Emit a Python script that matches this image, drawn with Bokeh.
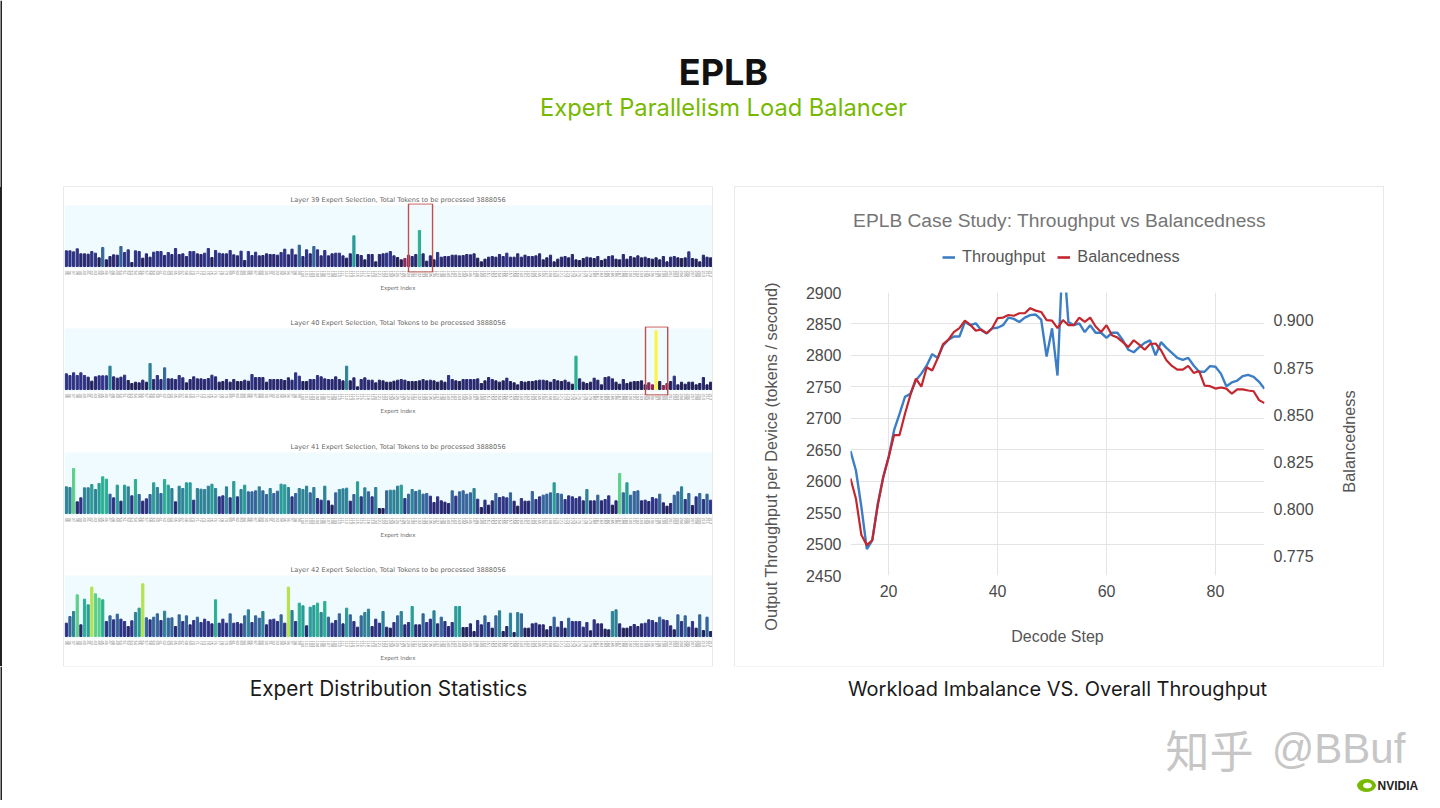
from bokeh.embed import file_html
from bokeh.layouts import column, row
from bokeh.models import (BoxAnnotation, ColumnDataSource, FixedTicker, Label, Legend, LegendItem,
                          LinearAxis, NumeralTickFormatter, Range1d, Spacer, Span, Title)
from bokeh.plotting import figure
from bokeh.resources import INLINE

# token bars per expert (relative height, no axis on the slide)
layer_39 = [
    47, 47, 44, 53, 38, 38, 37, 45, 40, 26, 57, 20, 30, 35, 34, 60, 42, 50, 12, 47,
    45, 25, 38, 28, 43, 45, 45, 33, 42, 36, 54, 36, 38, 30, 45, 45, 38, 36, 40, 54,
    27, 48, 40, 38, 38, 48, 35, 32, 46, 18, 45, 33, 43, 32, 33, 38, 36, 36, 34, 42,
    52, 35, 52, 35, 64, 30, 50, 38, 60, 50, 32, 48, 32, 38, 40, 40, 32, 25, 38, 92,
    36, 33, 20, 36, 36, 14, 36, 38, 40, 45, 32, 27, 20, 24, 34, 30, 36, 108, 38, 16,
    32, 20, 42, 28, 30, 30, 34, 34, 32, 33, 36, 35, 38, 25, 14, 22, 28, 30, 28, 36,
    30, 40, 28, 28, 38, 28, 34, 30, 30, 32, 38, 20, 26, 34, 14, 22, 28, 30, 26, 36,
    20, 18, 24, 28, 26, 24, 30, 18, 22, 30, 32, 22, 20, 36, 22, 30, 26, 32, 26, 28,
    24, 22, 26, 20, 30, 14, 28, 30, 26, 24, 26, 44, 24, 22, 14, 34, 28, 26,
]
layer_40 = [
    47, 42, 50, 42, 50, 42, 37, 25, 38, 41, 41, 41, 70, 38, 34, 37, 43, 27, 18, 22,
    20, 28, 22, 78, 30, 42, 30, 65, 32, 32, 30, 42, 35, 20, 30, 38, 32, 32, 30, 33,
    43, 38, 22, 24, 30, 22, 30, 24, 24, 28, 25, 45, 36, 36, 36, 22, 30, 30, 30, 30,
    27, 35, 28, 50, 40, 24, 24, 30, 30, 42, 38, 32, 30, 30, 38, 30, 26, 70, 26, 35,
    8, 30, 35, 28, 28, 20, 28, 26, 22, 22, 25, 28, 30, 28, 24, 24, 24, 26, 30, 26,
    28, 26, 22, 26, 22, 42, 30, 26, 24, 30, 30, 30, 30, 32, 18, 26, 36, 30, 26, 22,
    26, 34, 24, 20, 14, 24, 22, 24, 24, 26, 28, 28, 26, 22, 30, 26, 24, 28, 22, 16,
    100, 32, 22, 18, 22, 34, 28, 14, 36, 38, 32, 22, 16, 30, 18, 22, 24, 24, 26, 14,
    20, 14, 176, 24, 12, 18, 24, 40, 14, 22, 16, 22, 22, 14, 18, 36, 14, 22,
]
layer_41 = [
    80, 78, 135, 35, 47, 77, 77, 87, 72, 90, 110, 103, 58, 47, 85, 37, 85, 80, 53, 102,
    57, 37, 44, 57, 92, 78, 60, 102, 85, 75, 35, 82, 75, 92, 92, 40, 75, 73, 72, 82,
    88, 75, 50, 53, 80, 47, 96, 50, 72, 85, 65, 65, 68, 80, 68, 57, 75, 60, 67, 88,
    86, 78, 50, 60, 75, 72, 82, 62, 78, 45, 40, 82, 38, 25, 62, 72, 74, 76, 37, 57,
    95, 50, 77, 65, 50, 78, 15, 15, 68, 70, 70, 82, 85, 45, 58, 72, 66, 70, 58, 60,
    52, 33, 50, 38, 34, 30, 68, 52, 65, 68, 58, 62, 75, 43, 18, 40, 25, 38, 60, 48,
    50, 47, 62, 37, 22, 45, 37, 37, 66, 42, 50, 55, 58, 62, 92, 60, 58, 42, 53, 50,
    45, 50, 38, 72, 38, 38, 55, 38, 42, 53, 25, 38, 120, 62, 92, 55, 66, 68, 38, 40,
    36, 48, 44, 58, 32, 22, 30, 55, 65, 80, 42, 60, 24, 50, 60, 42, 58, 40,
]
layer_42 = [
    40, 60, 75, 125, 35, 112, 95, 148, 128, 115, 110, 45, 62, 50, 67, 52, 45, 30, 47, 72,
    85, 158, 56, 50, 58, 68, 48, 76, 55, 56, 30, 65, 45, 62, 35, 48, 58, 42, 52, 45,
    38, 110, 40, 52, 40, 68, 40, 42, 38, 62, 80, 42, 62, 55, 75, 35, 50, 52, 45, 65,
    40, 148, 78, 45, 100, 92, 32, 88, 93, 100, 72, 105, 58, 40, 48, 68, 38, 85, 65, 45,
    28, 62, 72, 82, 30, 52, 40, 75, 28, 25, 42, 62, 75, 35, 42, 90, 35, 35, 68, 42,
    52, 77, 38, 58, 45, 30, 42, 90, 90, 27, 27, 38, 15, 48, 35, 62, 42, 25, 62, 77,
    15, 30, 70, 12, 72, 68, 25, 25, 38, 40, 35, 35, 20, 30, 58, 28, 45, 25, 55, 45,
    45, 45, 28, 42, 17, 50, 38, 38, 22, 20, 75, 80, 38, 25, 25, 30, 36, 30, 38, 40,
    50, 48, 42, 58, 50, 48, 32, 20, 65, 45, 62, 28, 45, 25, 65, 18, 58, 15,
]
layer_names = [39, 40, 41, 42]
total_tokens = 3888056
first_expert = 35

# height bins and the colours of the slide's colour scale
color_limits = [28, 40, 55, 70, 85, 100, 115, 140, 170]
color_steps = ["#232058", "#2a2870", "#2f3384", "#36659a", "#2f8296", "#2a9c98", "#2bb092",
               "#5ccf8a", "#b4e24e", "#fdf44a"]

# red boxes on layers 39 and 40: expert span, and the bars tinted under them
highlight_39 = (94.0, 100.6)
highlight_40 = (159.1, 165.2)
tint_39 = [93, 94]
tint_40 = [160, 161, 164, 165]

steps = list(range(13, 90))
throughput = [
    2648, 2617, 2559, 2492, 2506, 2564, 2606, 2638, 2681, 2707, 2734, 2739, 2760, 2771, 2784,
    2802, 2796, 2816, 2825, 2830, 2830, 2853, 2848, 2851, 2840, 2835, 2843, 2844, 2848, 2860,
    2858, 2853, 2860, 2864, 2865, 2857, 2798, 2843, 2768, 2970, 2853, 2848, 2851, 2837, 2848,
    2836, 2836, 2828, 2836, 2836, 2824, 2809, 2805, 2813, 2820, 2824, 2800, 2821, 2812, 2804,
    2796, 2793, 2796, 2784, 2774, 2774, 2783, 2782, 2771, 2751, 2757, 2760, 2767, 2769, 2766,
    2758, 2747,
]
balancedness = [
    .8163, .8056, .7863, .7810, .7836, .8019, .8169, .8276, .8393, .8393, .8506, .8606, .8692,
    .8649, .8752, .8735, .8799, .8875, .8899, .8939, .8959, .8999, .8976, .8946, .8952, .8932,
    .8959, .9012, .9015, .9029, .9025, .9038, .9038, .9065, .9052, .9045, .9002, .8999, .8959,
    .9002, .8975, .8975, .9015, .8992, .9015, .8968, .8939, .8975, .8922, .8909, .8885, .8859,
    .8895, .8872, .8845, .8875, .8878, .8842, .8789, .8759, .8739, .8739, .8759, .8722, .8732,
    .8655, .8652, .8639, .8645, .8639, .8612, .8635, .8635, .8629, .8625, .8578, .8562,
]
throughput_ticks = [2450, 2500, 2550, 2600, 2650, 2700, 2750, 2800, 2850, 2900]
balance_ticks = [0.775, 0.8, 0.825, 0.85, 0.875, 0.9]
step_ticks = [20, 40, 60, 80]

BLUE = "#3c7ec6"
RED = "#c4262e"
SANS = "Liberation Sans"


def bar_color(v):
    for limit, color in zip(color_limits, color_steps):
        if v < limit:
            return color
    return color_steps[-1]


def canvas(width, height, y_top, y_bottom, edge=False):
    # plain sheet in page pixels, for slide texts
    p = figure(width=width, height=height, x_range=(0, width), y_range=(y_bottom, y_top),
               x_axis_type=None, y_axis_type=None, toolbar_location=None, output_backend="svg",
               min_border=0, outline_line_color=None)
    p.grid.visible = False
    if edge:
        p.add_layout(Span(location=0.5, dimension="height", line_color="#222222", line_width=2))
    return p


def put_text(p, x, y, text, size, color="#555555", font=SANS, style="normal", align="center", angle=0):
    p.add_layout(Label(x=x, y=y, text=text, text_font=font, text_font_size=size, text_color=color,
                       text_font_style=style, text_align=align, text_baseline="middle",
                       angle=angle, angle_units="deg"))


def layer_plot(layer, values, height, highlight=None, tint=()):
    n = len(values)
    xs = list(range(n))
    colors = ["#8c2a55" if i in tint else bar_color(v) for i, v in enumerate(values)]
    source = ColumnDataSource(data=dict(x=xs, top=values, color=colors))

    # frame a little larger than the pale band, the red boxes stick out of the band
    p = figure(width=648, height=height, x_range=Range1d(-0.5, n - 0.5), y_range=Range1d(-18, 189),
               toolbar_location=None, output_backend="svg", min_border_left=0, min_border_right=0,
               min_border_top=16, min_border_bottom=height - 85, outline_line_color=None,
               y_axis_type=None)
    p.add_layout(BoxAnnotation(bottom=-6, top=183, fill_color="#effbfe", fill_alpha=1, line_color=None,
                               level="underlay"))
    p.vbar(x="x", top="top", bottom=0, width=0.6, color="color", source=source)
    p.grid.visible = False

    p.title.text = f"Layer {layer} Expert Selection, Total Tokens to be processed {total_tokens}"
    p.title.align = "left"
    p.title.offset = 226
    p.title.text_font = "DejaVu Sans"
    p.title.text_font_size = "6.6px"
    p.title.text_font_style = "normal"
    p.title.text_color = "#666666"
    p.title.standoff = 0

    p.xaxis.ticker = FixedTicker(ticks=xs)
    p.xaxis.major_label_overrides = {i: str(first_expert + i) for i in xs}
    p.xaxis.major_label_orientation = "vertical"
    p.xaxis.major_label_text_font_size = "4px"
    p.xaxis.major_label_text_color = "#777777"
    p.xaxis.major_label_standoff = -2
    p.xaxis.major_tick_line_color = None
    p.xaxis.major_tick_in = 0
    p.xaxis.major_tick_out = 0
    p.xaxis.minor_tick_line_color = None
    p.xaxis.axis_line_color = None

    p.add_layout(Title(text="Expert Index", align="left", offset=316, text_font="DejaVu Sans",
                       text_font_size="5.5px", text_font_style="normal", text_color="#666666",
                       standoff=4), "below")
    if highlight:
        p.add_layout(BoxAnnotation(left=highlight[0], right=highlight[1], bottom=-17, top=188,
                                   fill_color=None, line_color="#c0504d", line_width=1.4,
                                   line_alpha=1, level="overlay"))
    return p


def balance_plot():
    p = figure(width=516, height=386, x_range=Range1d(13, 89), y_range=Range1d(2450, 2900),
               toolbar_location=None, output_backend="svg", min_border_left=50,
               min_border_right=50, min_border_top=12, min_border_bottom=91,
               outline_line_color=None)
    p.extra_y_ranges = {"balance": Range1d(0.7649, 0.9148)}
    right_axis = LinearAxis(y_range_name="balance")
    p.add_layout(right_axis, "right")

    p.line(steps, throughput, color=BLUE, line_width=2.4)
    p.line(steps, balancedness, color=RED, line_width=2.2, y_range_name="balance")

    p.xaxis.ticker = FixedTicker(ticks=step_ticks)
    p.yaxis[0].ticker = FixedTicker(ticks=throughput_ticks)
    right_axis.ticker = FixedTicker(ticks=balance_ticks)
    right_axis.formatter = NumeralTickFormatter(format="0.000")
    for axis in [p.xaxis[0], p.yaxis[0], right_axis]:
        axis.axis_line_color = None
        axis.major_tick_line_color = None
        axis.minor_tick_line_color = None
        axis.major_tick_in = 0
        axis.major_tick_out = 0
        axis.major_label_text_font = SANS
        axis.major_label_text_font_size = "16px"
        axis.major_label_text_color = "#4a4a4a"
        axis.major_label_standoff = 9
    p.xgrid.grid_line_color = "#e4e4e4"
    p.ygrid.grid_line_color = "#e4e4e4"

    p.xaxis.axis_label = "Decode Step"
    p.xaxis.axis_label_text_font = SANS
    p.xaxis.axis_label_text_font_size = "16px"
    p.xaxis.axis_label_text_font_style = "normal"
    p.xaxis.axis_label_text_color = "#555555"
    p.xaxis.axis_label_standoff = 28
    return p


def chart_heading():
    # title and legend sit on their own sheet above the chart
    p = canvas(583, 93, 187, 280)
    put_text(p, 259, 220, "EPLB Case Study: Throughput vs Balancedness", "19.2px", "#757575")
    # the series fall outside this sheet's y range, only their legend keys show
    key_t = p.line(steps, throughput, color=BLUE, line_width=2.6)
    key_b = p.line(steps, balancedness, color=RED, line_width=2.6)
    legend = Legend(items=[LegendItem(label="Throughput", renderers=[key_t]),
                           LegendItem(label="Balancedness", renderers=[key_b])],
                    orientation="horizontal", location=(142, 14), background_fill_color=None,
                    border_line_color=None, padding=0, margin=0, spacing=12, label_standoff=7,
                    glyph_width=13, glyph_height=4, label_text_font=SANS,
                    label_text_font_size="16.3px", label_text_color="#555555")
    p.add_layout(legend)
    return p


header = canvas(1432, 187, 0, 187, edge=True)
put_text(header, 723, 71, "EPLB", "36px", "#111111", "Inter", "bold")
put_text(header, 723, 107, "Expert Parallelism Load Balancer", "23.7px", "#76b900", "Inter")

left_panel = column(
    layer_plot(layer_names[0], layer_39, 123, highlight_39, tint_39),
    layer_plot(layer_names[1], layer_40, 124, highlight_40, tint_40),
    layer_plot(layer_names[2], layer_41, 123),
    layer_plot(layer_names[3], layer_42, 109),
    styles={"outline": "1px solid #e9e9e9"},
)

throughput_title = canvas(65, 479, 187, 666)
put_text(throughput_title, 35, 456, "Output Throughput per Device (tokens / second)", "16.3px", angle=90)
# this sheet lines up with the chart's frame in the row, so its y range is the frame's pixels
balance_title = canvas(67, 386, 292, 575)
put_text(balance_title, 32, 441, "Balancedness", "16.3px", angle=90)
right_panel = row(throughput_title, column(chart_heading(), row(balance_plot(), balance_title)),
                  styles={"outline": "1px solid #e9e9e9"})

edge = Spacer(width=64, height=479, styles={"border-left": "2px solid #222222", "box-sizing": "border-box"})
middle = row(edge, left_panel, Spacer(width=23, height=479), right_panel)

footer = canvas(1432, 134, 666, 800, edge=True)
put_text(footer, 388, 688, "Expert Distribution Statistics", "20.8px", "#1a1a1a", "Inter")
put_text(footer, 1057, 688, "Workload Imbalance VS. Overall Throughput", "20px", "#1a1a1a", "Inter")
put_text(footer, 1209, 748, "知乎", "44px", "#c6c6c6", "Noto Sans CJK SC")
put_text(footer, 1338, 748, "@BBuf", "42px", "#c6c6c6")
footer.ellipse(x=[1366], y=[785], width=[18], height=[12], color="#76b900")
footer.ellipse(x=[1367], y=[785], width=[8], height=[5], color="#ffffff")
put_text(footer, 1377, 785, "NVIDIA", "12px", "#222222", SANS, "bold", "left")

page = column(header, middle, footer)
open("out.html", "w").write(file_html(page, INLINE))
